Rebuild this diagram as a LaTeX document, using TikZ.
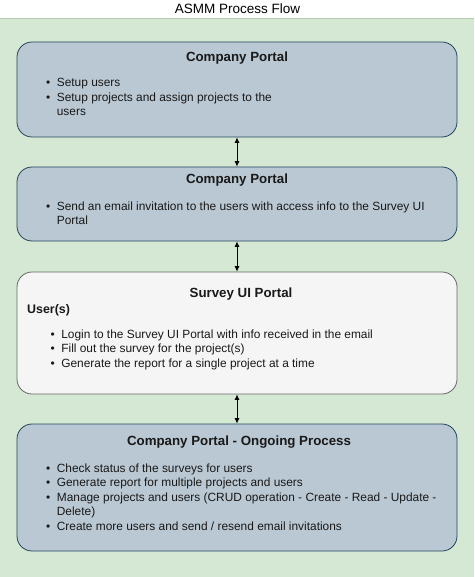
\documentclass[tikz,border=0pt]{standalone}
\usepackage{fontspec}
\setmainfont{Liberation Sans}
\usetikzlibrary{arrows.meta}
\definecolor{grn}{HTML}{D5E8D4}
\definecolor{grnline}{HTML}{B5CDB1}
\definecolor{bluefill}{HTML}{BAC8D3}
\definecolor{bluestroke}{HTML}{23445D}
\definecolor{grayfill}{HTML}{F5F5F5}
\definecolor{graystroke}{HTML}{666666}
\begin{document}
\begin{tikzpicture}[x=1pt,y=-1pt,
  bluebox/.style={draw=bluestroke,fill=bluefill,rounded corners=15pt,line width=0.8pt,minimum width=440pt,inner sep=0pt},
  graybox/.style={draw=graystroke,fill=grayfill,rounded corners=15pt,line width=0.8pt,minimum width=440pt,inner sep=0pt},
  ttl/.style={font=\fontsize{13.3}{16}\selectfont\bfseries,anchor=base,inner sep=0pt,text=black!90},
  items/.style={font=\fontsize{11.9}{14.5}\selectfont,anchor=base west,inner sep=0pt,text=black!90},
  conn/.style={{Latex[length=5.5pt,width=5pt]}-{Latex[length=5.5pt,width=5pt]},line width=0.8pt,black}
]
\useasboundingbox (0,0) rectangle (474,577);
\fill[white] (0,0) rectangle (474,577);
\fill[grn] (0,18) rectangle (474,577);
\draw[grnline,line width=0.8pt] (0,18.5) -- (474,18.5);
\node[font=\fontsize{13.5}{16}\selectfont,anchor=base,inner sep=0pt] (head) at (237.5,14) {ASMM Process Flow};

\node[bluebox,minimum height=95pt] (b1) at (237,89.5) {};
\node[bluebox,minimum height=74pt] (b2) at (237,204) {};
\node[graybox,minimum height=122pt] (b3) at (237,333) {};
\node[bluebox,minimum height=127pt] (b4) at (237,487.5) {};

\node[ttl] (t1) at (237,62) {Company Portal};
\node[items] (i1) at (46,87) {\begin{tabular}[t]{@{}l@{\hspace{6.5pt}}l@{}}
\textbullet & Setup users\\
\textbullet & Setup projects and assign projects to the\\
 & users
\end{tabular}};

\node[ttl] (t2) at (237,183.3) {Company Portal};
\node[items] (i2) at (46,210) {\begin{tabular}[t]{@{}l@{\hspace{6.5pt}}l@{}}
\textbullet & Send an email invitation to the users with access info to the Survey UI\\
 & Portal
\end{tabular}};

\node[ttl] (t3) at (241,297.3) {Survey UI Portal};
\node[font=\fontsize{12.4}{14}\selectfont\bfseries,anchor=base west,inner sep=0pt,text=black!90] (u3) at (27,313.3) {User(s)};
\node[items] (i3) at (50.5,338) {\begin{tabular}[t]{@{}l@{\hspace{6.5pt}}l@{}}
\textbullet & Login to the Survey UI Portal with info received in the email\\
\textbullet & Fill out the survey for the project(s)\\
\textbullet & Generate the report for a single project at a time
\end{tabular}};

\node[ttl] (t4) at (239,445.7) {Company Portal - Ongoing Process};
\node[items] (i4) at (46,472) {\begin{tabular}[t]{@{}l@{\hspace{6.5pt}}l@{}}
\textbullet & Check status of the surveys for users\\
\textbullet & Generate report for multiple projects and users\\
\textbullet & Manage projects and users (CRUD operation - Create - Read - Update -\\
 & Delete)\\
\textbullet & Create more users and send / resend email invitations
\end{tabular}};

\draw[conn] (b1.south) -- (b2.north);
\draw[conn] (b2.south) -- (b3.north);
\draw[conn] (b3.south) -- (b4.north);
\end{tikzpicture}
\end{document}
